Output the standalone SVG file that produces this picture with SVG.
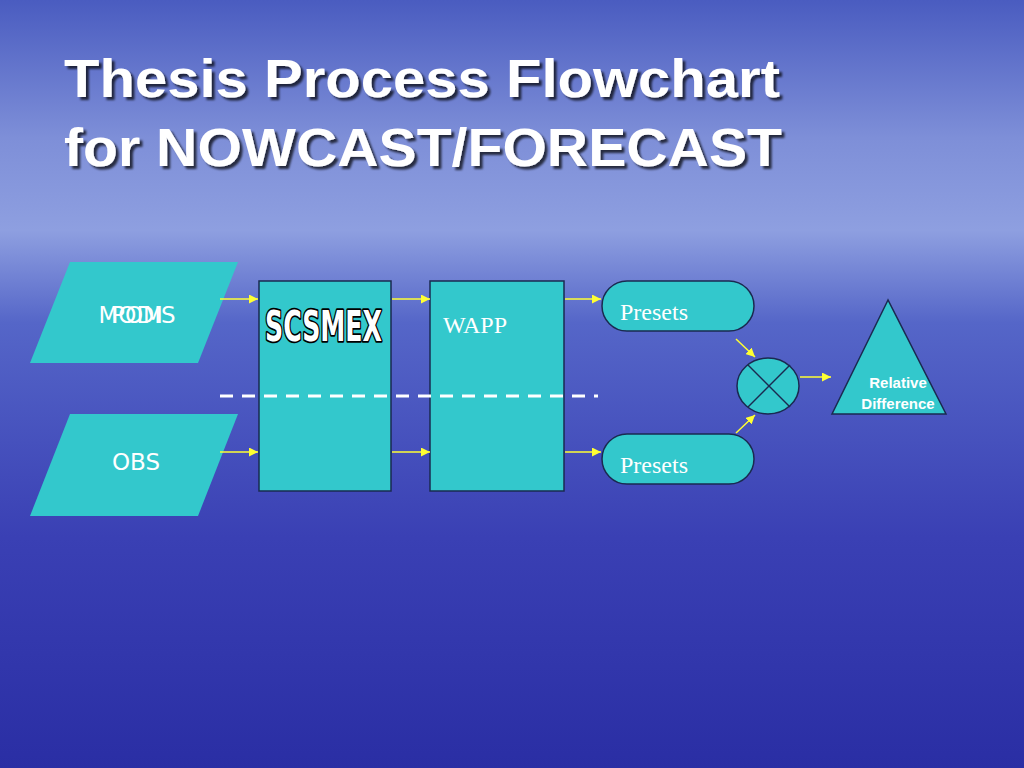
<svg xmlns="http://www.w3.org/2000/svg" width="1024" height="768" viewBox="0 0 1024 768">
<defs>
<linearGradient id="bg" x1="0" y1="0" x2="0" y2="1">
<stop offset="0" stop-color="#4a5cc0"/>
<stop offset="0.18" stop-color="#7e8fd8"/>
<stop offset="0.3" stop-color="#8e9fe0"/>
<stop offset="0.42" stop-color="#5566c8"/>
<stop offset="0.7" stop-color="#3a40b4"/>
<stop offset="1" stop-color="#2a2ea4"/>
</linearGradient>
<marker id="ah" viewBox="0 0 10 10" refX="10" refY="5" markerWidth="6" markerHeight="6" orient="auto"><path d="M0,0 L10,5 L0,10 z" fill="#ffff33"/></marker>
<filter id="sh"><feDropShadow dx="3" dy="3" stdDeviation="1" flood-color="#000" flood-opacity="0.7"/></filter>
</defs>
<style>
.n{fill:#33c8cc;stroke:#1a2a50;stroke-width:1.5}
.p{fill:#33c8cc}
.a{stroke:#ffff33;stroke-width:1.5;fill:none;marker-end:url(#ah)}
.t{fill:#fff;font-family:"DejaVu Sans",Verdana,sans-serif;font-size:23px}
.s{fill:#fff;font-family:"Liberation Serif",serif;font-size:24px}
.x{font-family:"DejaVu Sans Condensed","DejaVu Sans",sans-serif;font-weight:900;font-size:42px;fill:#fff;stroke:#000;stroke-width:3.5px;paint-order:stroke;stroke-linejoin:round}
</style>
<rect width="1024" height="768" fill="url(#bg)"/>
<g fill="#fff" font-family="'Liberation Sans',Arial,sans-serif" font-weight="bold" font-size="54" filter="url(#sh)">
<text x="64" y="97" textLength="716" lengthAdjust="spacingAndGlyphs">Thesis Process Flowchart</text>
<text x="64" y="166" textLength="718" lengthAdjust="spacingAndGlyphs">for NOWCAST/FORECAST</text>
</g>
<g id="modis"><polygon class="p" points="70,262 238,262 198,363 30,363"/>
<text class="t" x="137" y="323" text-anchor="middle">MODIS</text><text class="t" x="137" y="323" text-anchor="middle">POM</text></g>
<g id="obs"><polygon class="p" points="70,414 238,414 198,516 30,516"/>
<text class="t" x="136" y="470" text-anchor="middle">OBS</text></g>
<g id="scsmex"><rect class="n" x="259" y="281" width="132" height="210"/>
<text class="x" x="265" y="341" textLength="117" lengthAdjust="spacingAndGlyphs">SCSMEX</text></g>
<g id="wapp"><rect class="n" x="430" y="281" width="134" height="210"/>
<text class="s" x="443" y="333" font-size="22">WAPP</text></g>
<g id="presets1"><rect class="n" x="602" y="281" width="152" height="50" rx="25"/>
<text class="s" x="620" y="320">Presets</text></g>
<g id="presets2"><rect class="n" x="602" y="434" width="152" height="50" rx="25"/>
<text class="s" x="620" y="473">Presets</text></g>
<g id="mult"><ellipse class="n" cx="768" cy="386" rx="31" ry="28"/>
<line x1="748" y1="365" x2="790" y2="407" stroke="#1a2a50" stroke-width="1.5"/>
<line x1="790" y1="365" x2="748" y2="407" stroke="#1a2a50" stroke-width="1.5"/></g>
<g id="reldiff"><polygon class="n" points="888,300 832,414 946,414"/>
<text x="898" y="388" text-anchor="middle" fill="#fff" font-family="'Liberation Sans',Arial,sans-serif" font-weight="bold" font-size="15">Relative</text>
<text x="898" y="409" text-anchor="middle" fill="#fff" font-family="'Liberation Sans',Arial,sans-serif" font-weight="bold" font-size="15">Difference</text></g>
<g id="connectors">
<line class="a" x1="220" y1="299" x2="258" y2="299"/>
<line class="a" x1="220" y1="452" x2="258" y2="452"/>
<line class="a" x1="392" y1="299" x2="430" y2="299"/>
<line class="a" x1="392" y1="452" x2="430" y2="452"/>
<line class="a" x1="565" y1="299" x2="601" y2="299"/>
<line class="a" x1="565" y1="452" x2="601" y2="452"/>
<line class="a" x1="736" y1="339" x2="755" y2="357"/>
<line class="a" x1="736" y1="433" x2="755" y2="415"/>
<line class="a" x1="800" y1="377" x2="831" y2="377"/>
<line x1="220" y1="396" x2="598" y2="396" stroke="#fff" stroke-width="3" stroke-dasharray="13,9"/>
</g>
</svg>
